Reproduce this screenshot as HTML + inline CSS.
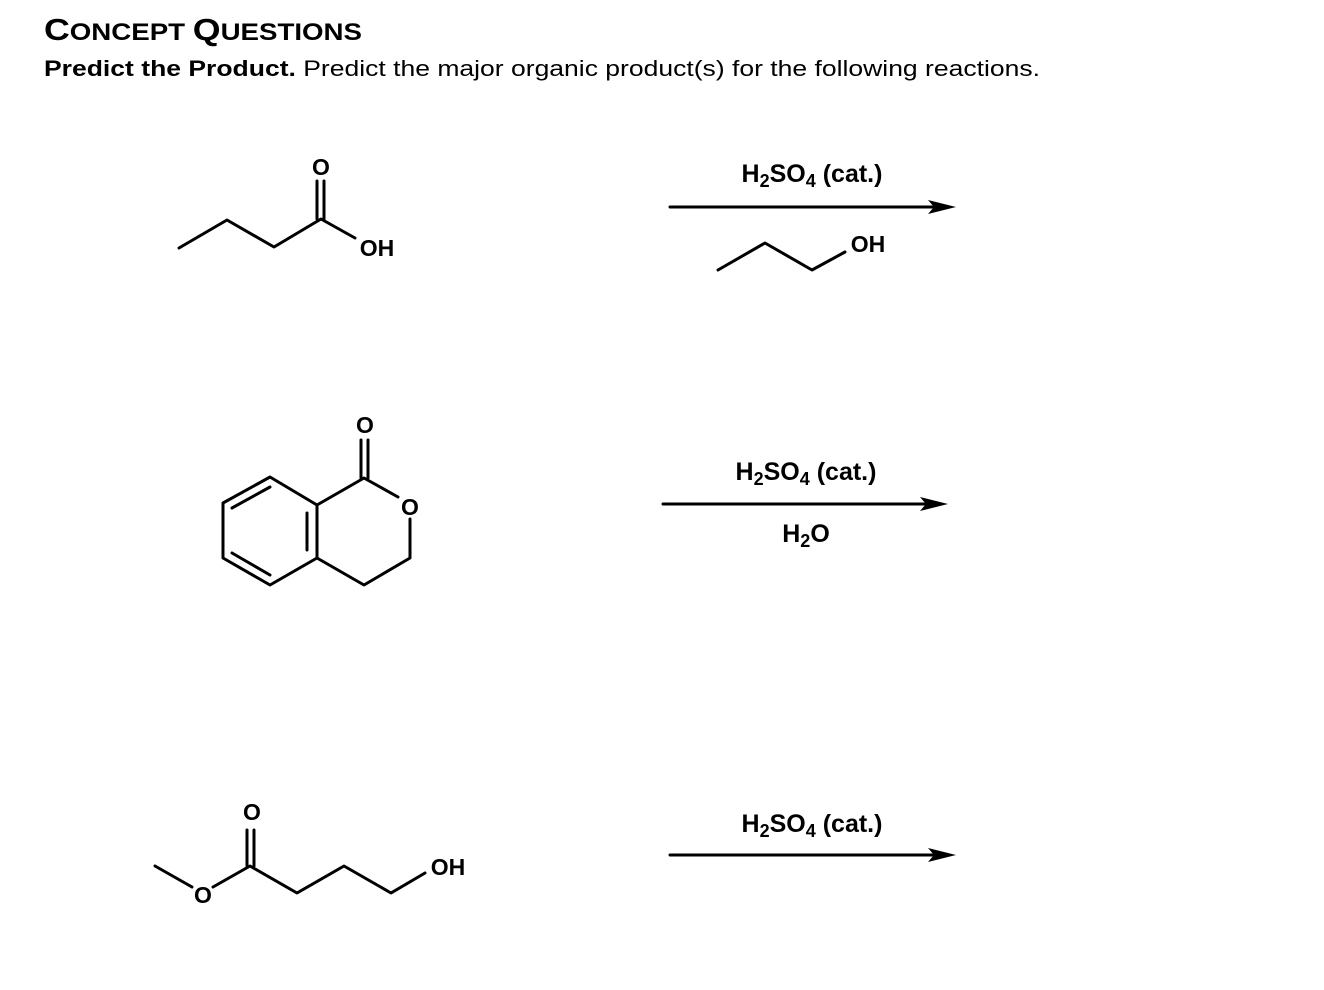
<!DOCTYPE html>
<html><head><meta charset="utf-8"><style>
html,body{margin:0;padding:0;background:#fff;}
svg{display:block}
text{font-family:"Liberation Sans",Arial,sans-serif;fill:#000}
</style></head><body>
<svg width="1324" height="990" viewBox="0 0 1324 990" xmlns="http://www.w3.org/2000/svg">
<text x="44" y="40" font-weight="bold" textLength="318" lengthAdjust="spacingAndGlyphs"><tspan font-size="31">C</tspan><tspan font-size="24">ONCEPT </tspan><tspan font-size="31">Q</tspan><tspan font-size="24">UESTIONS</tspan></text>
<text x="44" y="76" font-size="22" textLength="996" lengthAdjust="spacingAndGlyphs"><tspan font-weight="bold">Predict the Product.</tspan> Predict the major organic product(s) for the following reactions.</text>

<g stroke="#000" stroke-width="3" fill="none" stroke-linecap="round" stroke-linejoin="round">
<polyline points="179,248 227,220 274,247 321,219 355,238"/>
<line x1="317" y1="181" x2="317" y2="219"/><line x1="324" y1="181" x2="324" y2="219"/>
<polygon points="223,503 270,477 317,505 317,558 270,585 223,558"/>
<line x1="232" y1="508" x2="270" y2="487"/>
<line x1="307" y1="513" x2="307" y2="550"/>
<line x1="232" y1="553" x2="270" y2="575"/>
<polyline points="317,505 364,478 398,497"/>
<polyline points="410,519 410,558 364,585 317,558"/>
<line x1="361" y1="440" x2="361" y2="478"/><line x1="368" y1="440" x2="368" y2="478"/>
<line x1="155" y1="866" x2="192" y2="887"/>
<polyline points="213,887 250,866 297,893 344,866 391,893 425,873"/>
<line x1="247" y1="830" x2="247" y2="866"/><line x1="254" y1="830" x2="254" y2="866"/>
<polyline points="718,270 765,243 812,270 845,252"/>
<line x1="670" y1="207" x2="935" y2="207"/>
<line x1="663" y1="504" x2="927" y2="504"/>
<line x1="670" y1="855" x2="935" y2="855"/>
</g>
<g fill="#000">
<polygon points="956,207 928,200 934,207 928,214"/>
<polygon points="948,504 920,497 926,504 920,511"/>
<polygon points="956,855 928,848 934,855 928,862"/>
</g>
<g font-weight="bold" font-size="23">
<text x="321" y="175" text-anchor="middle">O</text>
<text x="377" y="256" text-anchor="middle">OH</text>
<text x="365" y="433" text-anchor="middle">O</text>
<text x="410" y="515" text-anchor="middle">O</text>
<text x="252" y="820" text-anchor="middle">O</text>
<text x="203" y="903" text-anchor="middle">O</text>
<text x="448" y="875" text-anchor="middle">OH</text>
<text x="868" y="252" text-anchor="middle">OH</text>
</g>
<g font-weight="bold" font-size="25">
<text x="812" y="182" text-anchor="middle">H<tspan font-size="18" dy="5">2</tspan><tspan dy="-5">SO</tspan><tspan font-size="18" dy="5">4</tspan><tspan dy="-5"> (cat.)</tspan></text>
<text x="806" y="480" text-anchor="middle">H<tspan font-size="18" dy="5">2</tspan><tspan dy="-5">SO</tspan><tspan font-size="18" dy="5">4</tspan><tspan dy="-5"> (cat.)</tspan></text>
<text x="806" y="542" text-anchor="middle">H<tspan font-size="18" dy="5">2</tspan><tspan dy="-5">O</tspan></text>
<text x="812" y="832" text-anchor="middle">H<tspan font-size="18" dy="5">2</tspan><tspan dy="-5">SO</tspan><tspan font-size="18" dy="5">4</tspan><tspan dy="-5"> (cat.)</tspan></text>
</g>
</svg>
</body></html>
